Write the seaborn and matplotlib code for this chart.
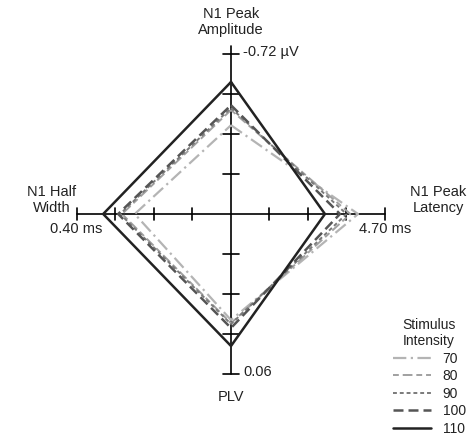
import matplotlib
matplotlib.use("Agg")
import matplotlib.pyplot as plt
import seaborn as sns
import pandas as pd

sns.set_theme(style="white")
plt.rcParams['font.family'] = ['Liberation Sans', 'DejaVu Sans']

axes_names = ["N1 Peak Amplitude", "N1 Peak Latency", "PLV", "N1 Half Width"]
intensities = ["70", "80", "90", "100", "110"]
# radius in tick units (0..4) on each axis: top, right, bottom, left
amp = [2.22, 2.6, 2.65, 2.72, 3.3]
lat = [3.3, 3.1, 3.0, 2.83, 2.44]
plv = [2.65, 2.73, 2.75, 2.85, 3.3]
hw = [2.5, 2.83, 2.88, 2.93, 3.32]
colors = ["#b4b4b4", "#a0a0a0", "#7a7a7a", "#555555", "#222222"]
dashes = [(6, 2, 1, 2), (3, 2, 5, 2), (2, 1.5), (4, 2), ()]
widths = [1.6, 1.4, 1.4, 1.8, 1.8]

fig = plt.figure(figsize=(4.74, 4.44), dpi=100)
ax = fig.add_axes([0, 0, 1, 1])
cx, cy, ux, uy = 231, 214, 38.5, 40

ax.plot([cx - 4 * ux, cx + 4 * ux], [cy, cy], color="black", lw=1.2)
ax.plot([cx, cx], [cy - 4.2 * uy, cy + 4 * uy], color="black", lw=1.2)
for k in [-4, -3, -2, -1, 1, 2, 3, 4]:
    ax.plot([cx + k * ux, cx + k * ux], [cy - 6, cy + 6], color="black", lw=1.2)
    ax.plot([cx - 8, cx + 8], [cy + k * uy, cy + k * uy], color="black", lw=1.2)

for i, lab in enumerate(intensities):
    xs = [cx, cx + lat[i] * ux, cx, cx - hw[i] * ux, cx]
    ys = [cy - amp[i] * uy, cy, cy + plv[i] * uy, cy, cy - amp[i] * uy]
    df = pd.DataFrame({"x": xs, "y": ys})
    sns.lineplot(data=df, x="x", y="y", sort=False, estimator=None, ax=ax,
                 color=colors[i], lw=widths[i], label=lab)
    ln = ax.lines[-1]
    if dashes[i]:
        ln.set_dashes(dashes[i])
    else:
        ln.set_linestyle("-")

ax.set_xlim(0, 474); ax.set_ylim(444, 0); ax.axis("off")

fs = 10.5
ax.text(cx, 22, "N1 Peak\nAmplitude", ha="center", va="center", fontsize=fs, color="#222")
ax.text(cx + 12, 52, "-0.72 µV", ha="left", va="center", fontsize=fs, color="#222")
ax.text(cx, 397, "PLV", ha="center", va="center", fontsize=fs, color="#222")
ax.text(cx + 12, 372, "0.06", ha="left", va="center", fontsize=fs, color="#222")
ax.text(52, 200, "N1 Half\nWidth", ha="center", va="center", fontsize=fs, color="#222")
ax.text(76, 229, "0.40 ms", ha="center", va="center", fontsize=fs, color="#222")
ax.text(438, 200, "N1 Peak\nLatency", ha="center", va="center", fontsize=fs, color="#222")
ax.text(385, 229, "4.70 ms", ha="center", va="center", fontsize=fs, color="#222")

leg = ax.legend(loc="lower right", bbox_to_anchor=(1.0, 0.0), frameon=False,
                title="Stimulus\nIntensity", fontsize=10, title_fontsize=10,
                handlelength=2.8, labelspacing=0.25, borderaxespad=0.2)
for t in leg.get_texts():
    t.set_color("#222")
leg.get_title().set_color("#222")

fig.savefig("out.png", dpi=100)
